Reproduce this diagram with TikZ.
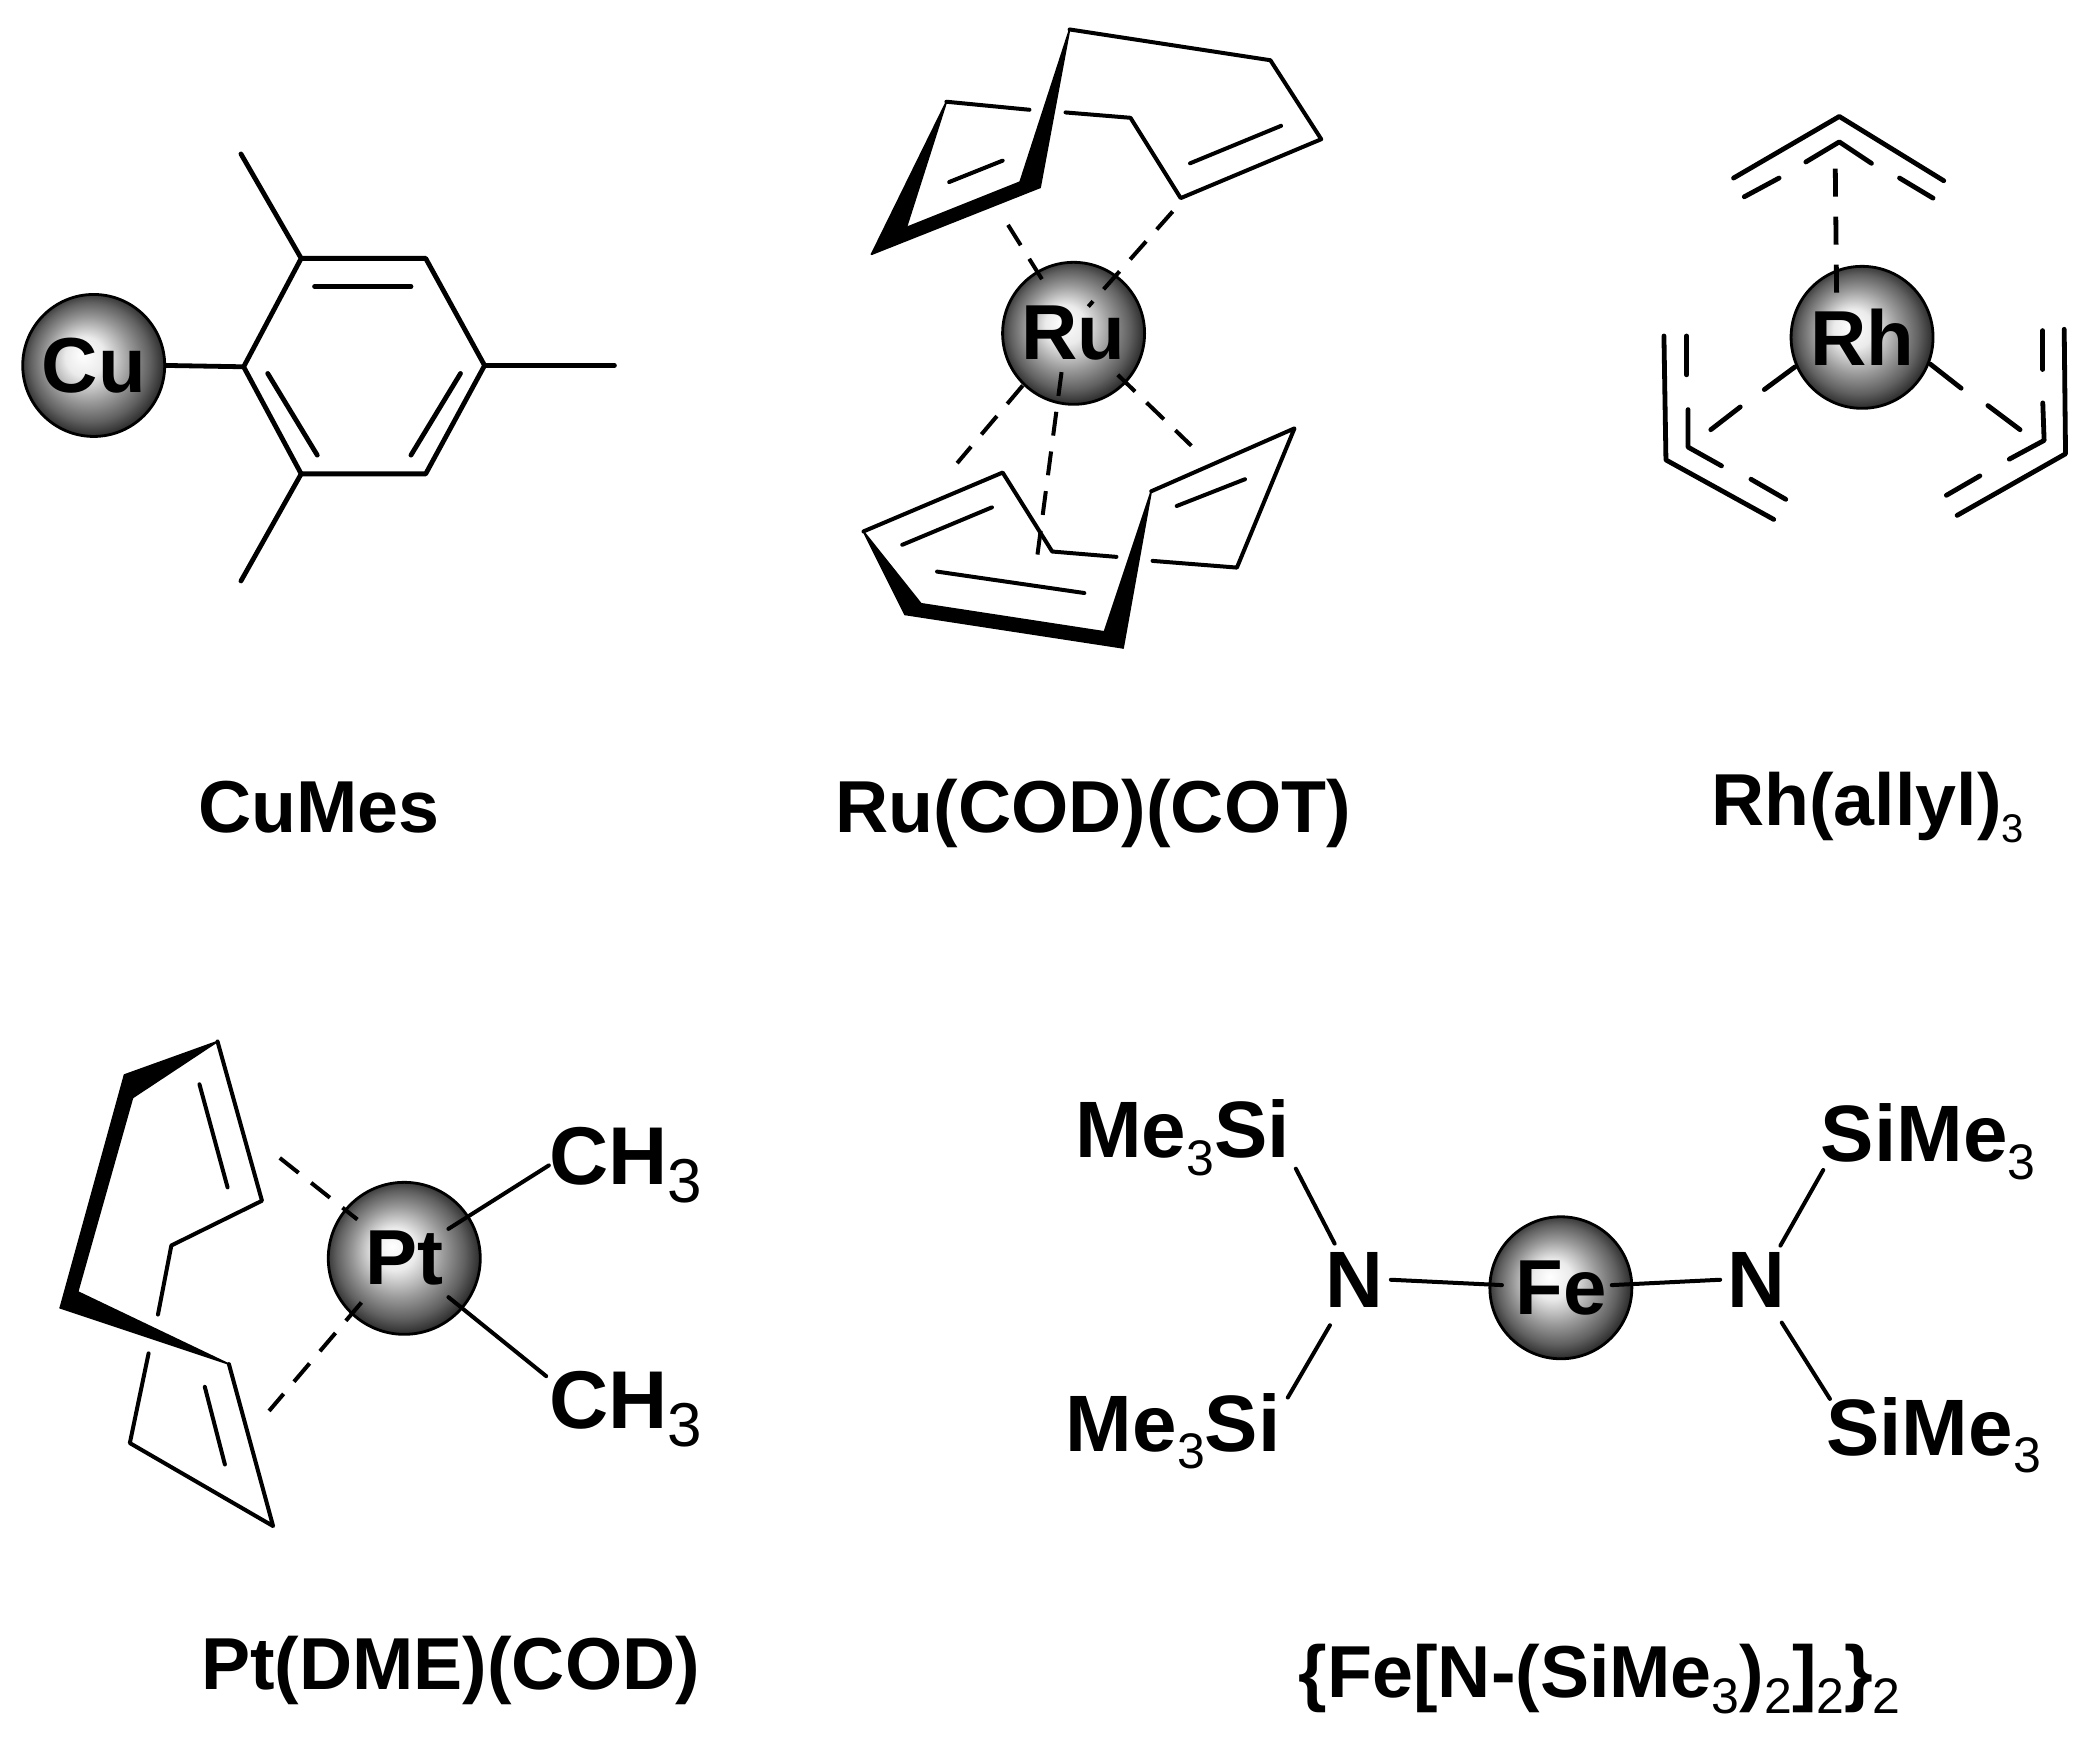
\documentclass[tikz,border=0pt]{standalone}
\usepackage{fontspec}
\setmainfont{Liberation Sans}
\pgfdeclareradialshading{metalball}{\pgfpoint{-4bp}{4bp}}{%
  color(0bp)=(white);
  color(7bp)=(white!92!black);
  color(15bp)=(black!40);
  color(21bp)=(black!62);
  color(26bp)=(black!85);
  color(30bp)=(black)}
\newcommand{\lowsub}[2][25]{\raisebox{-0.22em}{\mdseries\fontsize{#1}{#1}\selectfont #2}}
\tikzset{
  x=0.6693pt, y=-0.6693pt,
  bond/.style={line width=2.4pt, line cap=round, line join=round},
  thinbond/.style={line width=2.0pt, line cap=round, line join=round},
  dashbond/.style={line width=2.0pt, dash pattern=on 12pt off 8pt},
  longdash/.style={line width=2.4pt, dash pattern=on 14pt off 10pt},
  wedgefill/.style={fill=black, draw=black, line width=0.8pt, line join=round},
  metal/.style={circle, draw=black, line width=1.4pt, inner sep=0pt, minimum size=71pt,
    shading=metalball, font=\bfseries\fontsize{39}{42}\selectfont, text=black},
  formula/.style={anchor=base west, inner sep=0pt, font=\bfseries\fontsize{40}{44}\selectfont},
  caption/.style={anchor=base west, inner sep=0pt, font=\bfseries\fontsize{36.8}{42}\selectfont}
}
\begin{document}
\begin{tikzpicture}
\useasboundingbox (0,0) rectangle (1568,1301.3);
\fill[white] (0,0) rectangle (1568,1301.3);

% ---------- CuMes
\node[metal] (cu) at (70,273) {Cu};
\coordinate (r1) at (182,274); \coordinate (r2) at (225,193); \coordinate (r3) at (318,193);
\coordinate (r4) at (362,273); \coordinate (r5) at (318,354); \coordinate (r6) at (225,354);
\draw[bond] (r1) -- (r2) -- (r3) -- (r4) -- (r5) -- (r6) -- cycle;
\draw[bond] (cu.east) -- (r1);
\draw[bond] (r2) -- (180,115);
\draw[bond] (r6) -- (180,434);
\draw[bond] (r4) -- (459,273);
\draw[bond] (235,214) -- (307,214);
\draw[bond] (200,279) -- (237,340);
\draw[bond] (344,279) -- (307,340);
\node[caption] (capcu) at (148,622) {CuMes};

% ---------- Ru(COD)(COT)
\node[metal] (ru) at (802,249) {Ru};
\draw[thinbond] (799,22) -- (949,45) -- (987,104) -- (882,148) -- (844.5,88) -- (796,84);
\draw[thinbond] (957,94) -- (889,122);
\draw[thinbond] (707,76) -- (769,82);
\draw[thinbond] (749,120) -- (709,136);
\fill[wedgefill] (799,22) -- (762,136) -- (777,140) -- cycle;
\fill[wedgefill] (707,76) -- (651,190) -- (677,170) -- cycle;
\fill[wedgefill] (762,136) -- (677,170) -- (651,190) -- (777,140) -- cycle;
\draw[thinbond] (645,397) -- (749,353) -- (786,412) -- (834,416);
\draw[thinbond] (861,419) -- (924,424) -- (967,320) -- (860,367);
\draw[thinbond] (930,358) -- (879,378);
\draw[thinbond] (741,379) -- (674,407);
\draw[thinbond] (700,427) -- (810,443);
\fill[wedgefill] (860,367) -- (825,472) -- (839,484) -- cycle;
\fill[wedgefill] (645,397) -- (676,459) -- (688,451) -- cycle;
\fill[wedgefill] (688,451) -- (825,472) -- (839,484) -- (676,459) -- cycle;
\draw[dashbond] (753,168) -- (783,216);
\draw[dashbond] (876,158) -- (813,229);
\draw[dashbond] (764,288) -- (715,346);
\draw[dashbond] (793,278) -- (774,422);
\draw[dashbond] (835,280) -- (890,333);
\node[caption] (capru) at (624,622) {Ru(COD)(COT)};

% ---------- Rh(allyl)3
\node[metal] (rh) at (1391,252) {Rh};
\draw[bond] (1295,133) -- (1374,87) -- (1452,135);
\draw[bond] (1349,121) -- (1374,106) -- (1398,122);
\draw[bond] (1329,133) -- (1303,147);
\draw[bond] (1419,133) -- (1444,148);
\draw[longdash] (1371,126) -- (1372,220);
\draw[bond] (1243,251) -- (1244.5,343.6) -- (1325,388);
\draw[bond] (1260,251) -- (1260,280);
\draw[bond] (1261,306) -- (1261,334) -- (1286,348);
\draw[bond] (1308,358) -- (1334,373);
\draw[bond] (1341,274) -- (1318,291);
\draw[bond] (1300,304) -- (1278,321);
\draw[bond] (1542,246) -- (1543,339) -- (1462,385);
\draw[bond] (1526,247) -- (1526,276);
\draw[bond] (1526,301) -- (1527,329) -- (1501,343);
\draw[bond] (1479,355.5) -- (1454,370);
\draw[bond] (1442,272) -- (1465,290);
\draw[bond] (1485,303) -- (1509,321);
\node[caption] (caprh) at (1278,617) {Rh(allyl)\lowsub[20]{3}};

% ---------- Pt(DME)(COD)
\node[metal, minimum size=76pt] (pt) at (302,940) {Pt};
\draw[thinbond] (162.5,778) -- (195.7,897) -- (128,930.4) -- (118,982);
\draw[thinbond] (149,810) -- (170,887);
\draw[thinbond] (111,1011) -- (97,1078) -- (204,1140) -- (171,1019);
\draw[thinbond] (153,1036) -- (168,1094);
\fill[wedgefill] (162.5,778) -- (93,803) -- (99,820) -- cycle;
\fill[wedgefill] (93,803) -- (99,820) -- (58,965) -- (45,977) -- cycle;
\fill[wedgefill] (58,965) -- (45,977) -- (171,1019) -- cycle;
\draw[dashbond] (209,865) -- (267,911);
\draw[dashbond] (270,973) -- (201,1054);
\node[formula, font=\bfseries\fontsize{41}{44}\selectfont] (ch3a) at (410,885) {CH\lowsub[31]{3}};
\node[formula, font=\bfseries\fontsize{41}{44}\selectfont] (ch3b) at (410,1067) {CH\lowsub[31]{3}};
\draw[thinbond] ([shift={(33,-22)}]pt.center) -- (ch3a.west);
\draw[thinbond] ([shift={(33,29)}]pt.center) -- (408,1028);
\node[caption] (cappt) at (150,1262) {Pt(DME)(COD)};

% ---------- Fe amide
\node[metal] (fe) at (1166,962) {Fe};
\node[formula, anchor=base] (nl) at (1012,977) {N};
\node[formula, anchor=base] (nr) at (1312,977) {N};
\node[formula] (sia) at (803,865) {Me\lowsub{3}Si};
\node[formula] (sib) at (796,1084) {Me\lowsub{3}Si};
\node[formula] (sic) at (1360,868) {SiMe\lowsub{3}};
\node[formula] (sid) at (1364,1087) {SiMe\lowsub{3}};
\draw[thinbond] (1039,956) -- (1122,960);
\draw[thinbond] (1204,960) -- (1285,956);
\draw[thinbond] (968,873) -- (997,929);
\draw[thinbond] (993.5,990) -- (962,1044);
\draw[thinbond] (1362,874) -- (1330,930.5);
\draw[thinbond] (1331,988) -- (1367,1045);
\node[caption] (capfe) at (970,1268) {\{Fe[N-(SiMe\lowsub{3})\lowsub{2}]\lowsub{2}\}\lowsub{2}};
\end{tikzpicture}
\end{document}
